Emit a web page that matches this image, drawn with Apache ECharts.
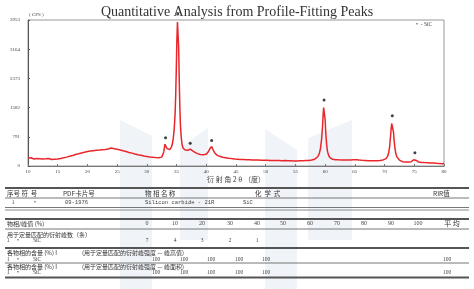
<!DOCTYPE html>
<html><head><meta charset="utf-8">
<script src="https://cdn.jsdelivr.net/npm/echarts@6/dist/echarts.min.js"></script>
<style>html,body{margin:0;padding:0;background:#fff}#c{width:474px;height:289px}</style>
</head><body><div id="c"></div>
<script>
// ---- data ----
const chartTitle = 'Quantitative Analysis from Profile-Fitting Peaks';
const yTickLabels = ['0','791','1582','2373','3164','3953'];
const yMax = 3953;
const profile = [
[10,215],[10.25,198],[10.5,222],[10.75,205],[11,190],[11.25,212],[11.5,200],[11.75,218],[12,195],[12.25,206],[12.5,188],[12.75,210],[13,196],[13.25,183],[13.5,205],[13.75,190],[14,178],[14.25,198],[14.5,185],[14.75,172],[15,192],
[15.25,185],[15.5,205],[15.75,200],[16,222],[16.25,215],[16.5,240],[16.75,232],[17,262],[17.25,255],[17.5,285],[17.75,278],[18,310],[18.25,305],
[18.5,330],[18.75,322],[19,352],[19.25,345],[19.5,372],[19.75,360],[20,390],[20.25,378],[20.5,405],[20.75,392],[21,415],[21.25,400],[21.5,425],[21.75,410],[22,430],[22.25,412],[22.5,438],[22.75,420],[23,445],[23.25,425],[23.5,460],[23.75,440],[24,485],[24.25,450],[24.5,470],[24.75,430],[25,455],[25.25,420],[25.5,435],[25.75,400],[26,412],[26.25,380],[26.5,392],[26.75,360],[27,368],[27.25,340],[27.5,348],[27.75,318],[28,325],[28.25,300],[28.5,305],[28.75,282],[29,290],[29.25,265],[29.5,272],[29.75,250],[30,258],[30.25,238],[30.5,245],[30.75,228],[31,236],[31.25,218],[31.5,228],[31.75,212],[32,225],[32.25,218],[32.5,240],
[32.7,280],[32.85,380],[32.95,500],[33.05,590],[33.15,600],[33.25,545],[33.4,470],[33.55,440],[33.7,430],[33.85,445],[34,470],[34.15,520],
[34.3,600],[34.45,760],[34.6,1000],[34.75,1400],[34.85,1900],[34.95,2600],[35.05,3400],[35.15,3900],[35.2,3953],[35.25,3850],[35.35,3200],[35.45,2300],[35.55,1600],[35.65,1100],[35.8,750],[35.95,560],[36.1,480],[36.3,440],
[36.5,430],[36.7,410],[36.9,425],[37.1,440],[37.3,455],[37.5,440],[37.7,410],[37.9,385],[38.1,370],[38.3,345],[38.5,335],[38.75,318],[39,310],[39.25,298],[39.5,305],[39.75,300],[40,320],[40.2,350],[40.4,400],[40.6,470],[40.75,515],[40.9,525],[41.05,490],[41.2,420],[41.4,360],[41.6,320],[41.8,295],[42,280],[42.25,262],[42.5,255],[42.75,238],[43,245],[43.25,225],[43.5,232],[43.75,212],[44,220],[44.25,200],[44.5,210],[44.75,190],[45,172],[45.25,185],[45.5,165],[45.75,178],[46,160],[46.25,175],[46.5,158],[46.75,170],[47,152],[47.25,168],[47.5,150],[47.75,165],[48,148],[48.25,162],[48.5,145],[48.75,160],[49,142],[49.25,158],[49.5,140],[49.75,155],[50,145],[50.25,158],[50.5,138],[50.75,152],[51,136],[51.25,150],[51.5,132],[51.75,148],[52,135],[52.25,150],[52.5,128],[52.75,144],[53,130],[53.25,146],[53.5,128],[53.75,142],[54,125],[54.25,140],[54.5,122],[54.75,138],[55,120],[55.25,136],[55.5,125],[55.75,140],[56,126],[56.25,142],[56.5,130],[56.75,146],[57,135],[57.25,150],[57.5,145],[57.75,162],[58,165],[58.25,185],[58.5,205],[58.75,250],[59,330],[59.2,460],[59.4,720],[59.55,1050],[59.65,1350],[59.75,1580],[59.82,1624],[59.9,1540],[60,1250],[60.1,900],[60.25,580],[60.4,390],[60.6,280],[60.8,225],[61,195],[61.25,180],[61.5,165],[61.75,172],[62,155],[62.25,168],[62.5,150],[62.75,165],[63,148],[63.25,160],[63.5,145],[63.75,162],[64,148],[64.25,165],[64.5,150],[64.75,168],[65,155],[65.25,170],[65.5,150],[65.75,162],[66,140],[66.25,155],[66.5,135],[66.75,150],[67,130],[67.25,145],[67.5,128],[67.75,142],[68,125],[68.25,140],[68.5,128],[68.75,145],[69,135],[69.25,150],[69.5,145],[69.75,165],[70,175],[70.25,200],[70.5,260],[70.7,360],[70.85,520],[71,800],[71.1,1000],[71.2,1150],[71.3,1200],[71.4,1120],[71.5,920],[71.6,700],[71.75,480],[71.9,330],[72.1,240],[72.3,190],[72.5,160],[72.75,140],[73,118],[73.25,132],[73.5,110],[73.75,125],[74,108],[74.25,122],[74.5,118],[74.75,140],[74.9,170],[75,190],[75.1,195],[75.2,180],[75.35,150],[75.5,125],[75.75,105],[76,118],[76.25,98],[76.5,112],[76.75,92],[77,105],[77.25,88],[77.5,100],[77.75,82],[78,95],[78.25,78],[78.5,90],[78.75,72],[79,85],[79.25,68],[79.5,80],[79.75,62],[80,75]
];
const peakMarks = [[33.15,600],[35.2,3953],[37.3,455],[40.9,525],[59.82,1624],[71.3,1200],[75.1,195]];
const legendText = '•  - SiC';
const xAxisName = '衍 射 角 2 θ （度）';
const headerTexts = ['序号 符  号','PDF卡片号','物 相 名 称','化  学  式','RIR值'];
const phaseRow = ['1','•','09-1976','Silicon carbide - 21R','SiC'];
const pctLabels = ['0','10','20','30','40','50','60','70','80','90','100'];
const avgLabel = '平 均';
const pctRowTitle = '物相/峰值 (%)';
const countTitle = '用于定量匹配的衍射峰数（条）';
const countRow = ['1','•','SiC'];
const peakCounts = ['7','4','3','2','1'];
const contentTitle = '各物相的含量 (%) I';
const heightNote = '(用于定量匹配的衍射峰强度 — 峰高值)';
const areaNote = '(用于定量匹配的衍射峰强度 — 峰面积)';
const heightContent = ['100','100','100','100','100'];
const heightAvg = '100';
const areaContent = ['100','100','100','100','100'];
const areaAvg = '100';

// ---- layout ----
const CJK = '"Noto Sans CJK SC", sans-serif';
const SERIF = '"Liberation Serif", serif';
const MONO = '"Liberation Mono", monospace';
const g = [];
// faint background watermark shapes
const wm = [
  [[120,120],[152,136],[152,289],[120,289]],
  [[180,148],[208,128],[208,240],[180,240]],
  [[265,129],[297,150],[297,289],[265,289]],
  [[308,138],[352,120],[352,240],[308,240]]
];
wm.forEach(p=>g.push({type:'polygon', silent:true, z:-10, shape:{points:p}, style:{fill:'#f0f3f7'}}));
function txt(s, x, y, size, font, align, color) {
  g.push({type:'text', x:x, y:y, silent:true, z:10,
    style:{text:s, font: size + 'px ' + font, fill: color || '#333',
      textAlign: align || 'left', textVerticalAlign:'middle', align: align || 'left', verticalAlign:'middle'}});
}
function hline(y, w, color) {
  g.push({type:'line', silent:true, z:9, shape:{x1:5, y1:y, x2:469, y2:y}, style:{stroke: color || '#555', lineWidth:w}});
}
txt(xAxisName, 236, 179, 7, CJK, 'center', '#444');
txt('( CPS )', 29, 15, 5, SERIF, 'left', '#444');
txt(legendText, 416, 25, 5.5, SERIF, 'left', '#444');

hline(188, 2); hline(198, 1, '#777'); hline(207.5, 1, '#777'); hline(210, 1, '#888');
hline(219, 2); hline(229, 1, '#777'); hline(248, 2); hline(263, 1, '#777'); hline(277.5, 2);
const headerX = [7, 63, 145, 255, 433];
headerTexts.forEach((t,i)=>txt(t, headerX[i], 193.5, 6.5, CJK, 'left', '#333'));
const rowX = [13, 35, 65, 145, 243];
const rowFont = [SERIF, SERIF, MONO, MONO, MONO];
phaseRow.forEach((t,i)=>txt(t, rowX[i], 203, 5.5, rowFont[i], i<2?'center':'left', '#444'));
const colX = [147, 175, 202, 230, 257, 283, 310, 337, 364, 391, 418];
txt(pctRowTitle, 7, 223.5, 6, CJK, 'left', '#333');
pctLabels.forEach((t,i)=>txt(t, colX[i], 223.5, 6, SERIF, 'center', '#444'));
txt(avgLabel, 452, 223.5, 7, CJK, 'center', '#333');
txt(countTitle, 7, 235, 6, CJK, 'left', '#333');
const subX = [8, 18, 33];
countRow.forEach((t,i)=>txt(t, subX[i], 241, 5.5, SERIF, i<2?'center':'left', '#444'));
peakCounts.forEach((t,i)=>txt(t, colX[i], 241, 5.5, SERIF, 'center', '#444'));
[[253, 259.5, heightNote, heightContent, heightAvg],[266.5, 272.5, areaNote, areaContent, areaAvg]].forEach(r=>{
  txt(contentTitle, 7, r[0], 6, CJK, 'left', '#333');
  txt(r[2], 82, r[0], 6, CJK, 'left', '#333');
  countRow.forEach((t,i)=>txt(t, subX[i], r[1], 5.5, SERIF, i<2?'center':'left', '#444'));
  r[3].forEach((t,i)=>txt(t, colX[i]+9, r[1], 5.5, SERIF, 'center', '#444'));
  txt(r[4], 447, r[1], 5.5, SERIF, 'center', '#444');
});

const chart = echarts.init(document.getElementById('c'), null, {renderer:'canvas'});
const yInt = yMax / 5;
chart.setOption({
  backgroundColor:'#fff',
  animation:false,
  title:{text:chartTitle, left:'center', top:0,
    textStyle:{fontFamily:SERIF, fontSize:14, fontWeight:'normal', color:'#333'}},
  grid:{left:28, right:30, top:20, bottom:123, show:true, borderColor:'#999', borderWidth:1},
  xAxis:{type:'value', min:10, max:80, interval:5,
    axisLine:{show:true, lineStyle:{color:'#777', width:1}},
    axisTick:{show:true, inside:true, length:2, lineStyle:{color:'#777'}},
    axisLabel:{fontSize:5, fontFamily:SERIF, color:'#444', margin:3},
    splitLine:{show:false}},
  yAxis:{type:'value', min:0, max:yMax, interval:yInt,
    axisLine:{show:true, lineStyle:{color:'#555', width:1}},
    axisTick:{show:true, inside:true, length:2, lineStyle:{color:'#555'}},
    axisLabel:{fontSize:5, fontFamily:SERIF, color:'#444', margin:8,
      formatter:(v)=>yTickLabels[Math.round(v / yInt)] || ''},
    splitLine:{show:false}},
  series:[
    {type:'line', data:profile, symbol:'none', lineStyle:{color:'#e8262b', width:1.5}, z:3},
    {type:'scatter', data:peakMarks, symbol:'circle', symbolSize:3, symbolOffset:[0,-6],
      itemStyle:{color:'#111'}, clip:false, z:4}
  ],
  graphic:g
});
</script></body></html>
